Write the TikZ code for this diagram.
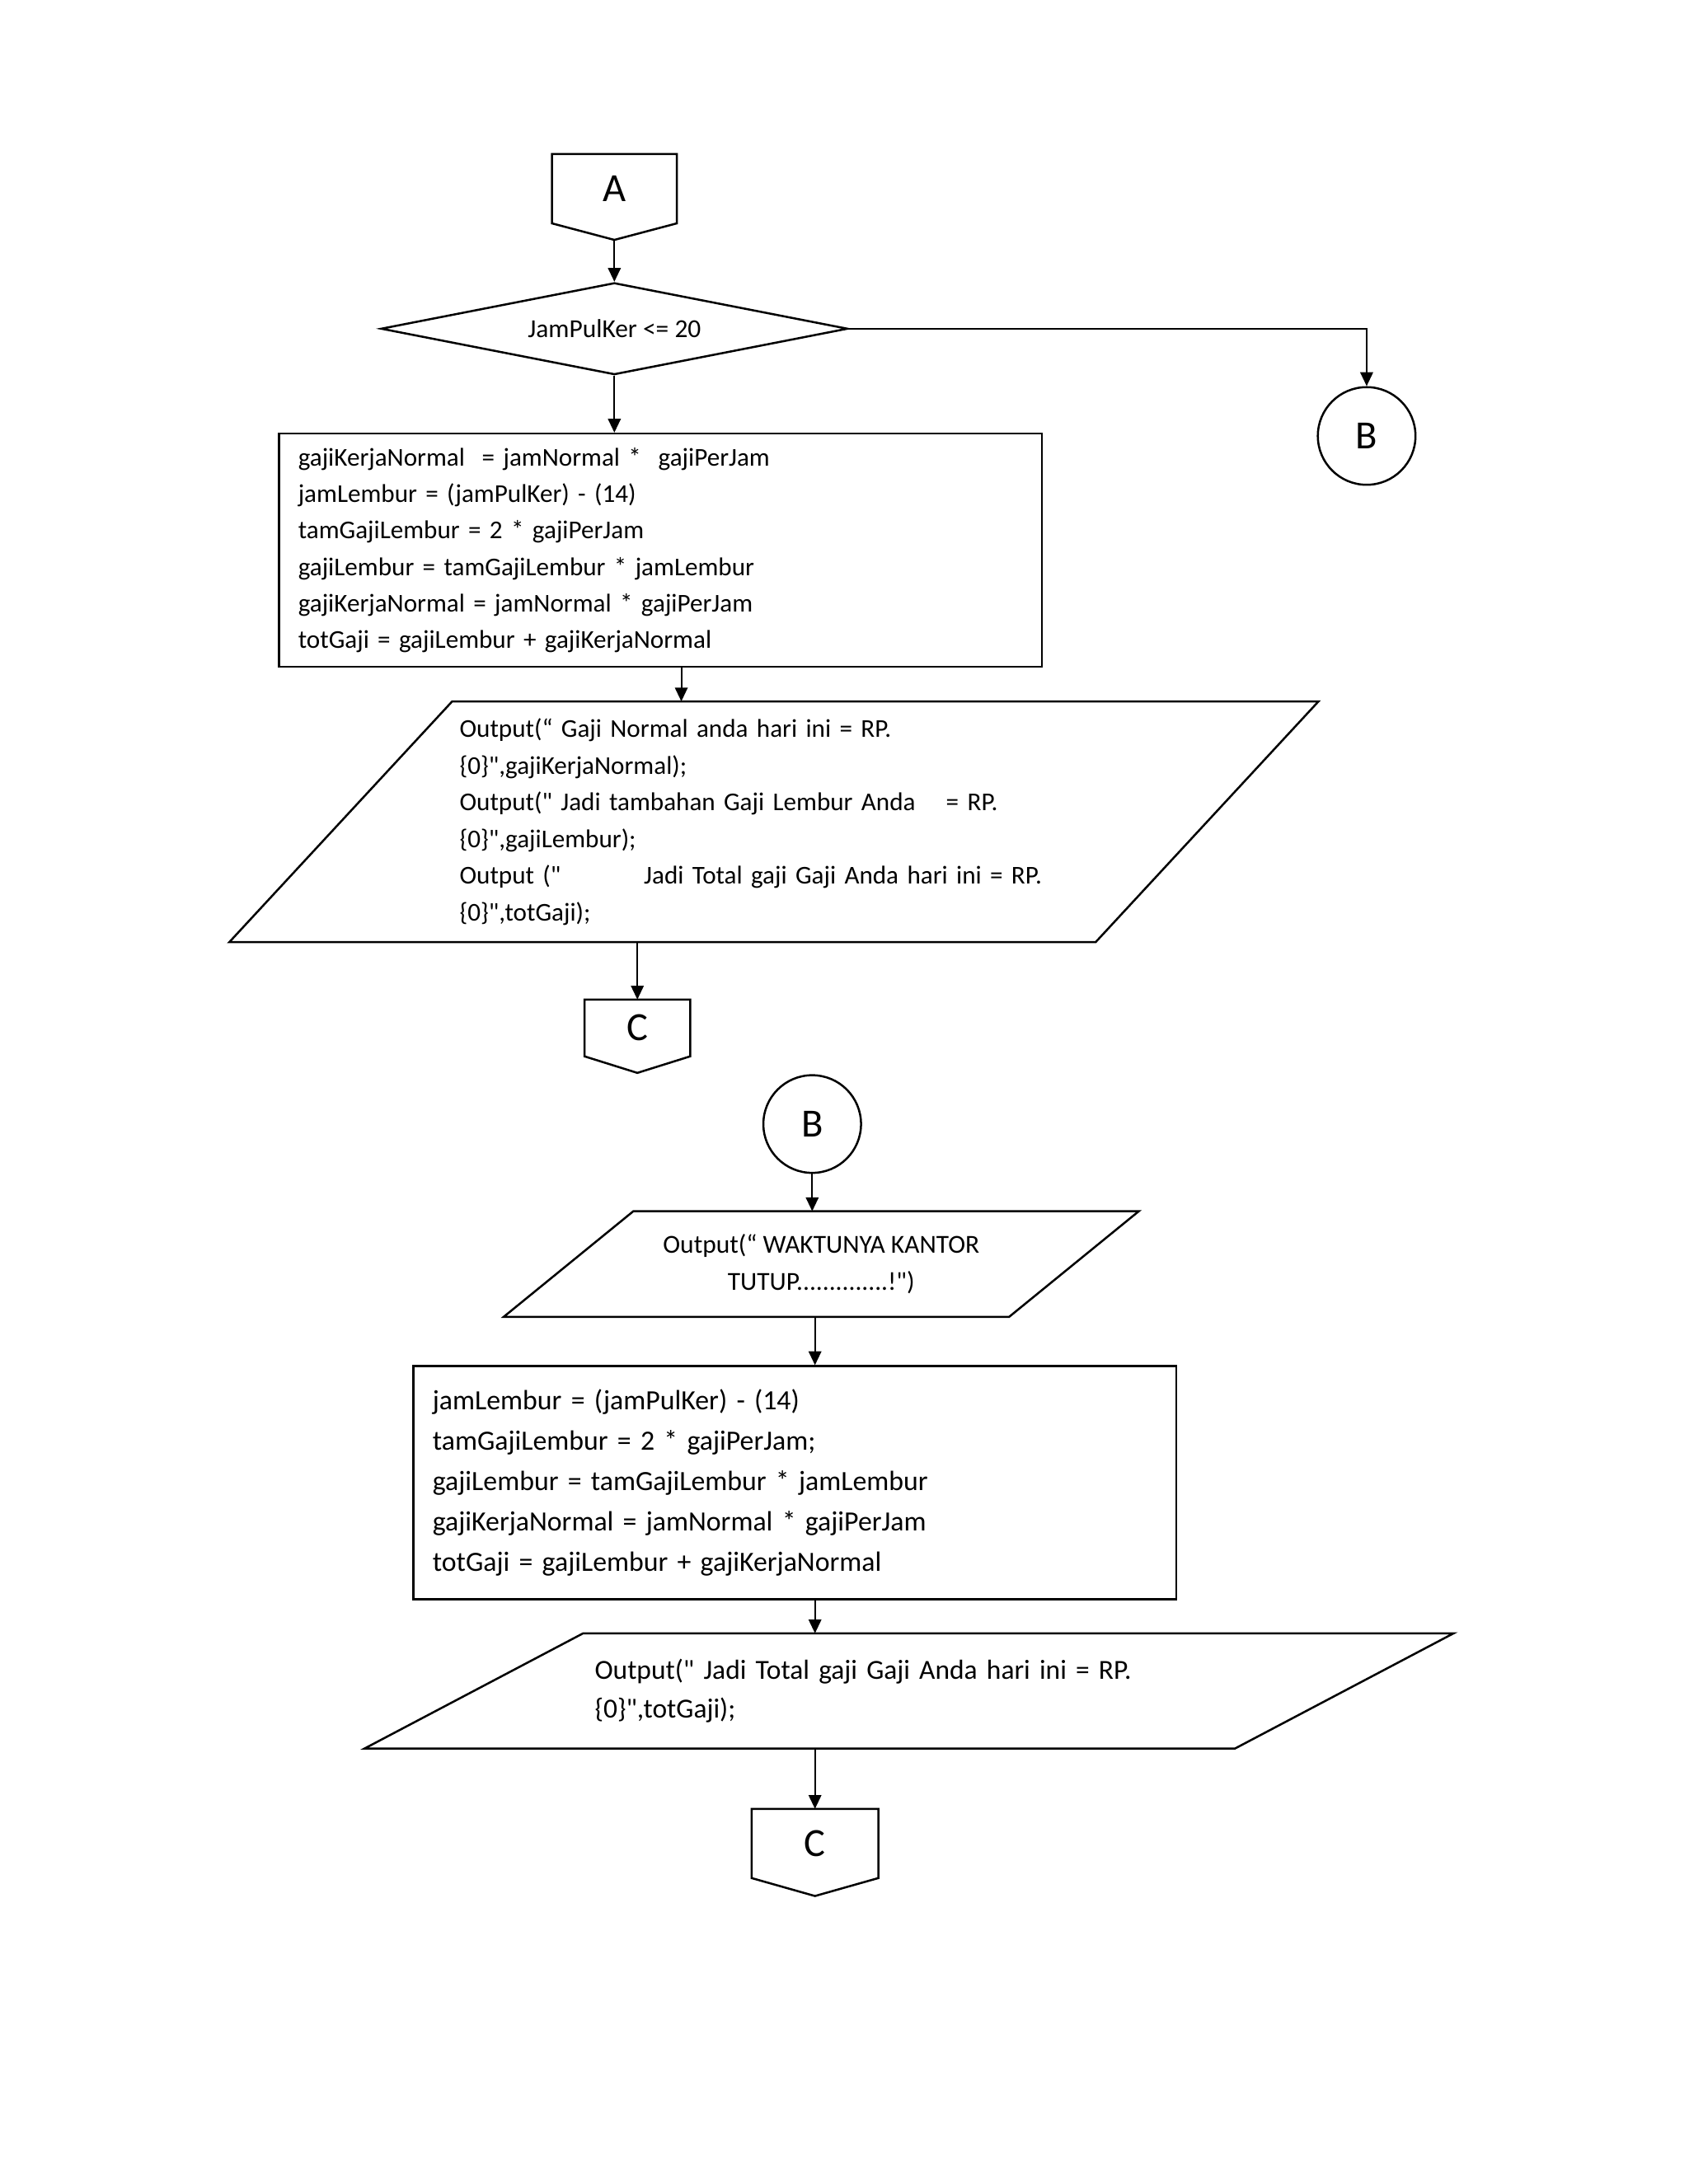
\documentclass[tikz,border=0pt]{standalone}
\usepackage{fontspec}
\setmainfont{Carlito}[Ligatures=TeXOff]
\usepackage{tikz}
\usetikzlibrary{
    arrows.meta,
    shapes.geometric,
    calc,
    positioning
}

\tikzset{
    shapeline/.style={line width=0.75pt},
    arrow/.style={-{Triangle[length=5pt,width=4.6pt]}, line width=0.6pt},
    conn/.style={rectangle, inner sep=0pt, font=\fontsize{14.5}{16}\selectfont},
    circ/.style={circle, draw, line width=0.75pt, minimum size=35.4pt, inner sep=0pt, font=\fontsize{14.5}{16}\selectfont},
    decision/.style={diamond, draw, line width=0.75pt, aspect=5, minimum width=169.2pt, minimum height=33.3pt, inner sep=0pt, font=\fontsize{9.4}{12}\selectfont},
    procbox/.style={rectangle, draw, line width=0.75pt, minimum width=276.5pt, minimum height=84.5pt, inner xsep=7pt, inner ysep=2pt, text width=262.5pt, align=left},
    iobox/.style={rectangle, inner sep=0pt}
}

\begin{document}
\begin{tikzpicture}[x=0.50495pt, y=-0.50495pt]
    \useasboundingbox (0, 0) rectangle (1212, 1568);

    \node[conn, minimum width=44.9pt, minimum height=24.7pt] (conA) at (441, 135.5) {A};
    \draw[shapeline] (conA.north west) -- (conA.north east) -- (conA.south east) -- ([yshift=-6pt]conA.south) -- (conA.south west) -- cycle;
    \coordinate (tipA) at ([yshift=-6pt]conA.south);

    \node[decision] (dec) at (441, 236) {JamPulKer <= 20};
    \node[circ] (circB1) at (981, 313) {B};

    \node[procbox, font=\fontsize{9.3}{13.2}\selectfont] (box1) at (474, 395) {gajiKerjaNormal\ \ = jamNormal *\ \ gajiPerJam\\
        jamLembur = (jamPulKer) - (14)\\
        tamGajiLembur = 2 * gajiPerJam\\
        gajiLembur = tamGajiLembur * jamLembur\\
        gajiKerjaNormal = jamNormal * gajiPerJam\\
        totGaji = gajiLembur + gajiKerjaNormal};

    \node[iobox, minimum width=394.4pt, minimum height=86.9pt, text width=227.8pt, align=left, font=\fontsize{9.3}{13.3}\selectfont] (out1) at (555.5, 590) {Output(“ Gaji Normal anda hari ini = RP.\\
        \{0\}",gajiKerjaNormal);\\
        Output(" Jadi tambahan Gaji Lembur Anda\hspace{8pt} = RP.\\
        \{0\}",gajiLembur);\\
        Output ("\hspace{27pt} Jadi Total gaji Gaji Anda hari ini = RP.\\
        \{0\}",totGaji);};
    \draw[shapeline] ([xshift=80.8pt]out1.north west) -- (out1.north east) -- ([xshift=-80.8pt]out1.south east) -- (out1.south west) -- cycle;

    \node[conn, minimum width=37.9pt, minimum height=20.2pt] (conC1) at (457.5, 738) {C};
    \draw[shapeline] (conC1.north west) -- (conC1.north east) -- (conC1.south east) -- ([yshift=-6pt]conC1.south) -- (conC1.south west) -- cycle;

    \node[circ] (circB2) at (583, 807) {B};

    \node[iobox, minimum width=229.8pt, minimum height=37.9pt, align=center, font=\fontsize{9.4}{13.6}\selectfont] (out2) at (589.5, 907.5) {Output(“ WAKTUNYA KANTOR\\
        TUTUP..............!")};
    \draw[shapeline] ([xshift=47pt]out2.north west) -- (out2.north east) -- ([xshift=-47pt]out2.south east) -- (out2.south west) -- cycle;

    \node[procbox, font=\fontsize{10.1}{14.6}\selectfont] (box2) at (570.5, 1064.5) {jamLembur = (jamPulKer) - (14)\\
        tamGajiLembur = 2 * gajiPerJam;\\
        gajiLembur = tamGajiLembur * jamLembur\\
        gajiKerjaNormal = jamNormal * gajiPerJam\\
        totGaji = gajiLembur + gajiKerjaNormal};

    \node[iobox, minimum width=394.4pt, minimum height=41.4pt, text width=227.8pt, align=left, font=\fontsize{10}{14.1}\selectfont] (out3) at (652.5, 1214) {Output(" Jadi Total gaji Gaji Anda hari ini = RP.\\
        \{0\}",totGaji);};
    \draw[shapeline] ([xshift=79.3pt]out3.north west) -- (out3.north east) -- ([xshift=-79.3pt]out3.south east) -- (out3.south west) -- cycle;

    \node[conn, minimum width=45.5pt, minimum height=24.7pt] (conC2) at (585, 1323.5) {C};
    \draw[shapeline] (conC2.north west) -- (conC2.north east) -- (conC2.south east) -- ([yshift=-6.5pt]conC2.south) -- (conC2.south west) -- cycle;

    \coordinate (j1) at ([xshift=7.6pt]box1.south);
    \draw[arrow] (tipA) -- (tipA |- dec.north);
    \draw[arrow] (dec.south) -- (dec.south |- box1.north);
    \draw[arrow] (dec.east) -| (circB1.north);
    \draw[arrow] (j1) -- (j1 |- out1.north);
    \draw[arrow] (conC1.north |- out1.south) -- (conC1.north);
    \draw[arrow] (circB2.south) -- (circB2.south |- out2.north);
    \draw[arrow] (conC2.north |- out2.south) -- (conC2.north |- box2.north);
    \draw[arrow] (conC2.north |- box2.south) -- (conC2.north |- out3.north);
    \draw[arrow] (conC2.north |- out3.south) -- (conC2.north);
\end{tikzpicture}
\end{document}
